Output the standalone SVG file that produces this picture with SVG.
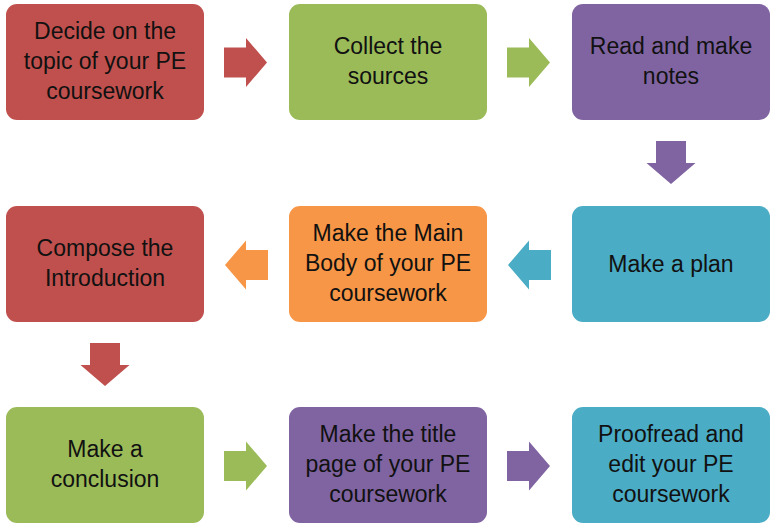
<svg xmlns="http://www.w3.org/2000/svg" width="777" height="529" viewBox="0 0 777 529">
<defs>
<style>
.box{stroke:none}
.t{font-family:"Liberation Sans",Arial,sans-serif;font-size:23px;fill:#111;text-anchor:middle}
.red{fill:#C0504D}.green{fill:#9BBB59}.purple{fill:#8064A2}.teal{fill:#4BACC6}.orange{fill:#F79646}
</style>
<path id="ar" d="M-21,-15 H1 V-24.5 L22,0 L1,24.5 V15 H-21 Z"/>
</defs>
<rect width="777" height="529" fill="#fff"/>
<g id="connectors">
<use href="#ar" class="red" transform="translate(245,62.5)"/>
<use href="#ar" class="green" transform="translate(528,62.5)"/>
<use href="#ar" class="purple" transform="translate(671,162) rotate(90)"/>
<use href="#ar" class="teal" transform="translate(530,265) rotate(180)"/>
<use href="#ar" class="orange" transform="translate(247,265) rotate(180)"/>
<use href="#ar" class="red" transform="translate(105,364) rotate(90)"/>
<use href="#ar" class="green" transform="translate(245,466)"/>
<use href="#ar" class="purple" transform="translate(528,466)"/>
</g>
<g id="n1"><rect class="box red" x="6" y="4" width="198" height="116" rx="11"/>
<text class="t" x="105"><tspan x="105" y="39">Decide on the</tspan><tspan x="105" y="69">topic of your PE</tspan><tspan x="105" y="99">coursework</tspan></text></g>
<g id="n2"><rect class="box green" x="289" y="4" width="198" height="116" rx="11"/>
<text class="t"><tspan x="388" y="54">Collect the</tspan><tspan x="388" y="84">sources</tspan></text></g>
<g id="n3"><rect class="box purple" x="572" y="4" width="198" height="116" rx="11"/>
<text class="t"><tspan x="671" y="54">Read and make</tspan><tspan x="671" y="84">notes</tspan></text></g>
<g id="n4"><rect class="box teal" x="572" y="206" width="198" height="116" rx="11"/>
<text class="t"><tspan x="671" y="272">Make a plan</tspan></text></g>
<g id="n5"><rect class="box orange" x="289" y="206" width="198" height="116" rx="11"/>
<text class="t"><tspan x="388" y="241">Make the Main</tspan><tspan x="388" y="271">Body of your PE</tspan><tspan x="388" y="301">coursework</tspan></text></g>
<g id="n6"><rect class="box red" x="6" y="206" width="198" height="116" rx="11"/>
<text class="t"><tspan x="105" y="256">Compose the</tspan><tspan x="105" y="286">Introduction</tspan></text></g>
<g id="n7"><rect class="box green" x="6" y="407" width="198" height="116" rx="11"/>
<text class="t"><tspan x="105" y="457">Make a</tspan><tspan x="105" y="487">conclusion</tspan></text></g>
<g id="n8"><rect class="box purple" x="289" y="407" width="198" height="116" rx="11"/>
<text class="t"><tspan x="388" y="442">Make the title</tspan><tspan x="388" y="472">page of your PE</tspan><tspan x="388" y="502">coursework</tspan></text></g>
<g id="n9"><rect class="box teal" x="572" y="407" width="198" height="116" rx="11"/>
<text class="t"><tspan x="671" y="442">Proofread and</tspan><tspan x="671" y="472">edit your PE</tspan><tspan x="671" y="502">coursework</tspan></text></g>
</svg>
